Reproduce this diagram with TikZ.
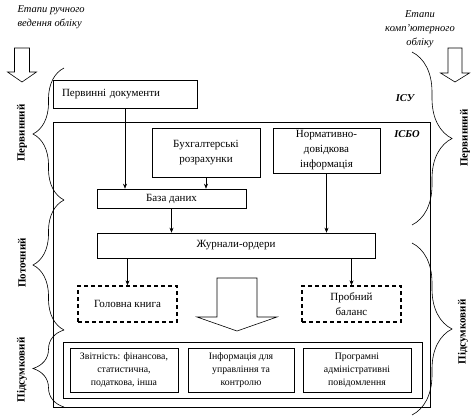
\documentclass[tikz,border=0pt]{standalone}
\usepackage{fontspec}
\setmainfont{Liberation Serif}
\usetikzlibrary{arrows.meta}
\usetikzlibrary{decorations.pathreplacing}
\tikzset{
  box/.style = {
    draw, line width = 0.6pt, inner sep = 0pt, align = center, font = \fontsize{11}{15}\selectfont  }
}

\begin{document}
\begin{tikzpicture}[x=1pt,y=-1pt,
dashbox/.style={box,line width=1.3pt,dash pattern=on 4pt off 3pt},
smallbox/.style={box,font=\fontsize{9.8}{13}\selectfont},
stage/.style={rotate=90,font=\fontsize{11}{12}\selectfont\bfseries},
note/.style={align=center,font=\fontsize{10.5}{14}\selectfont\itshape},
sys/.style={font=\fontsize{10.5}{12}\selectfont\bfseries\itshape},
flow/.style={-{Stealth[length=5pt,width=4pt]},line width=0.5pt},
bracket/.style={decorate,line width=0.6pt},
hollow/.style={draw,line width=0.6pt,fill=white}]

\useasboundingbox (0,0) rectangle (474,418);

% frames
\draw[line width=0.6pt] (53,122) rectangle (430,407);
\draw[line width=0.6pt] (63,342) rectangle (422,398);

% boxes
\node[box,minimum width=144pt,minimum height=28pt,text width=126pt,inner xsep=9pt,align=left] (perv) at (125,94) {Первинні документи};
\node[box,minimum width=108pt,minimum height=49pt] (buh) at (206,152.5) {Бухгалтерські\\розрахунки};
\node[box,minimum width=107pt,minimum height=45pt] (norm) at (326.5,150.5) {Нормативно-\\довідкова\\інформація};
\node[box,minimum width=149pt,minimum height=19pt] (baza) at (171.5,198.5) {База даних};
\node[box,minimum width=278pt,minimum height=25pt] (zhurn) at (236,245.5) {Журнали-ордери};
\node[dashbox,minimum width=99pt,minimum height=36pt] (golov) at (127.5,304) {Головна книга};
\node[dashbox,minimum width=99pt,minimum height=36pt] (prob) at (351.5,304) {Пробний\\баланс};
\node[smallbox,minimum width=108pt,minimum height=44pt] (zvit) at (124,370) {Звітність: фінансова,\\статистична,\\податкова, інша};
\node[smallbox,minimum width=106pt,minimum height=44pt] (upr) at (241,370) {Інформація для\\управління та\\контролю};
\node[smallbox,minimum width=108pt,minimum height=44pt] (prog) at (357,370) {Програмні\\адміністративні\\повідомлення};

% labels
\node[note,align=left,anchor=west] (manual) at (14,17.5) {Етапи ручного\\ведення обліку};
\node[note] (comp) at (420,29) {Етапи\\комп’ютерного\\обліку};
\node[sys] (isu) at (405,98) {ІСУ};
\node[sys] (isbo) at (407,134) {ІСБО};

\node[stage] (l1) at (22,133) {Первинний};
\node[stage] (l2) at (22,263) {Поточний};
\node[stage] (l3) at (22,370) {Підсумковий};
\node[stage] (r1) at (465,138) {Первинний};
\node[stage] (r2) at (463,332) {Підсумковий};

% flows
\draw[flow] (perv) -- (perv |- baza.north);
\draw[flow] (buh) -- (buh |- baza.north);
\draw[flow] (baza) -- (baza |- zhurn.north);
\draw[flow] (norm) -- (norm |- zhurn.north);
\draw[flow] (golov |- zhurn.south) -- (golov);
\draw[flow] (prob |- zhurn.south) -- (prob);

% hollow arrows
\foreach \cx/\ytop/\sw/\hw/\yneck/\ytip in {22/48/7.5/14.5/72/82,455/48/7/14.5/73/82,237/278/20/40/317/331}{
 \draw[hollow] ({\cx-\sw},\ytop) -- ({\cx+\sw},\ytop) -- ({\cx+\sw},\yneck) -- ({\cx+\hw},\yneck)
   -- (\cx,\ytip) -- ({\cx-\hw},\yneck) -- ({\cx-\sw},\yneck) -- cycle;
}

% braces
\foreach \ya/\yb in {200/68,330/200,407/330}{
 \draw[bracket,decoration={brace,amplitude=31pt}] (64,\ya) -- (64,\yb);
}
\foreach \ya/\yb in {52/225,243/415}{
 \draw[bracket,decoration={brace,amplitude=40pt}] (412,\ya) -- (412,\yb);
}
\end{tikzpicture}
\end{document}
